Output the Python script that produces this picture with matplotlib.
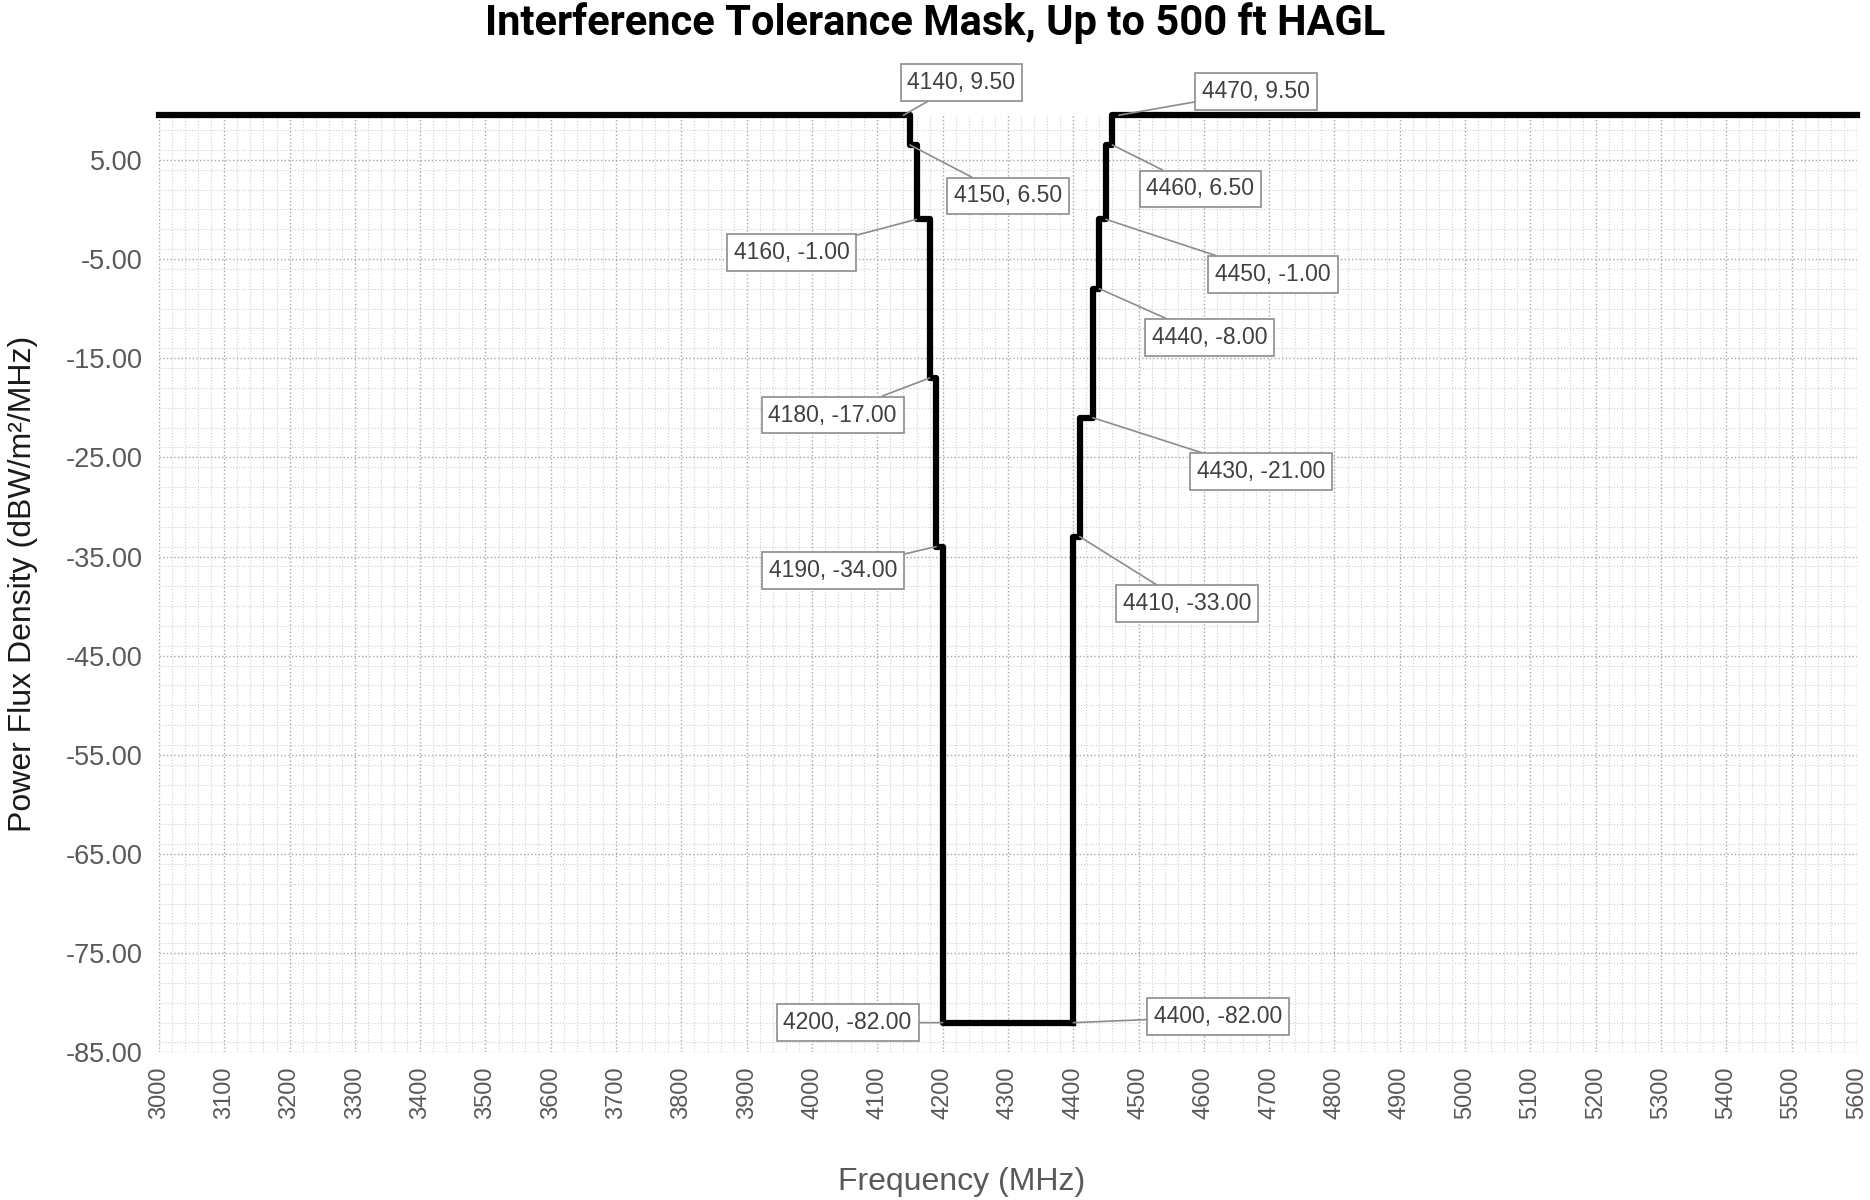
import matplotlib
matplotlib.use("Agg")
import matplotlib.pyplot as plt
from matplotlib.ticker import MultipleLocator, FormatStrFormatter

# mask breakpoints (MHz) and levels (dBW/m2/MHz)
left_freq = [3000, 4140, 4150, 4160, 4180, 4190, 4200, 4400]
left_level = [9.5, 9.5, 6.5, -1.0, -17.0, -34.0, -82.0, -82.0]
right_freq = [4400, 4410, 4430, 4440, 4450, 4460, 4470, 5600]
right_level = [-82.0, -33.0, -21.0, -8.0, -1.0, 6.5, 9.5, 9.5]

# labelled points and where their callout sits (offset in pixels)
label_freq = [4140, 4150, 4160, 4180, 4190, 4200,
              4400, 4410, 4430, 4440, 4450, 4460, 4470]
label_level = [9.5, 6.5, -1.0, -17.0, -34.0, -82.0,
               -82.0, -33.0, -21.0, -8.0, -1.0, 6.5, 9.5]
label_offset = [(58, 33), (98, -51), (-125, -33), (-97, -37), (-103, -24), (-95, 0),
                (145, 6), (107, -67), (168, -54), (110, -49), (167, -55), (88, -44), (137, 24)]

fig, ax = plt.subplots(figsize=(18.7, 12), dpi=100)
fig.subplots_adjust(left=0.085, right=0.993, top=0.904, bottom=0.123)

ax.step(left_freq, left_level, where="post", color="black", lw=4.5, clip_on=False, zorder=5)
ax.step(right_freq, right_level, where="pre", color="black", lw=4.5, clip_on=False, zorder=5)

for f, v, off in zip(label_freq, label_level, label_offset):
    ax.annotate(f"{f}, {v:.2f}", xy=(f, v), xytext=off, textcoords="offset pixels",
                ha="center", va="center", fontsize=16.5, color="#404040",
                family="Liberation Sans",
                bbox=dict(boxstyle="square,pad=0.3", fc="white", ec="#8c8c8c", lw=1.2),
                arrowprops=dict(arrowstyle="-", color="#8c8c8c", lw=1.2, shrinkA=0, shrinkB=0),
                zorder=6)

ax.set_xlim(3000, 5600)
ax.set_ylim(-85, 9.5)
ax.xaxis.set_major_locator(MultipleLocator(100))
ax.xaxis.set_minor_locator(MultipleLocator(20))
ax.set_yticks([-85, -75, -65, -55, -45, -35, -25, -15, -5, 5])
ax.yaxis.set_minor_locator(MultipleLocator(2))
ax.yaxis.set_major_formatter(FormatStrFormatter("%.2f"))

ax.grid(which="major", color="#a6a6a6", linestyle=":", lw=1.0)
ax.grid(which="minor", color="#cfcfcf", linestyle=":", lw=0.8)
ax.set_axisbelow(True)
for s in ax.spines.values():
    s.set_visible(False)

ax.tick_params(which="both", length=0)
ax.tick_params(axis="x", labelrotation=90, labelsize=17, labelcolor="#595959", pad=10)
ax.tick_params(axis="y", labelsize=19.5, labelcolor="#595959", pad=12)
for lab in ax.get_xticklabels() + ax.get_yticklabels():
    lab.set_family("Liberation Sans")

fig.suptitle("Interference Tolerance Mask, Up to 500 ft HAGL", x=0.5, y=0.981, va="center",
             fontsize=30, fontweight="bold", family="Roboto")
ax.set_xlabel("Frequency (MHz)", fontsize=23, color="#595959", family="Liberation Sans")
ax.xaxis.set_label_coords(0.473, -0.122)
ax.set_ylabel("Power Flux Density (dBW/m²/MHz)", fontsize=23, color="#1a1a1a",
              family="Liberation Sans")
ax.yaxis.set_label_coords(-0.071, 0.5)

fig.savefig("out.png", dpi=100)
